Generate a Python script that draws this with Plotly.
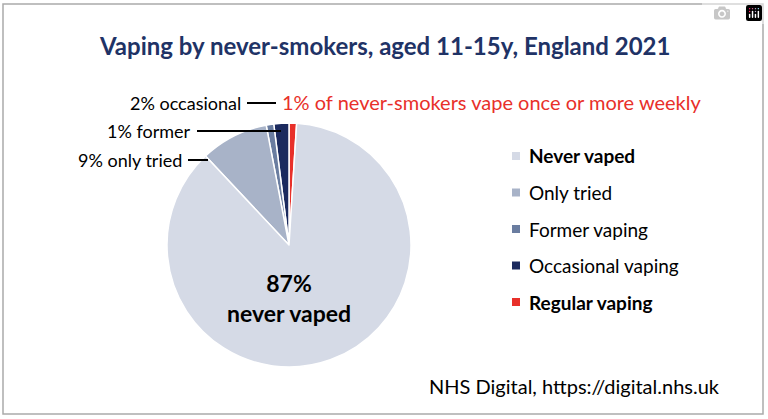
import plotly.graph_objects as go

W, H = 768, 419
labels = ["Regular vaping", "Occasional vaping", "Former vaping", "Only tried", "Never vaped"]
values = [1, 2, 1, 9, 87]
colors = ["#e8302a", "#1b2a5e", "#6a7da0", "#a8b3c8", "#d5dae6"]
legend_bold = [True, False, False, False, True]
callouts = [("2% occasional", 103, 247, 276), ("1% former", 131, 197, 281), ("9% only tried", 160, 188, 208)]

def px(x): return x / W
def py(y): return 1 - y / H

fig = go.Figure(go.Pie(
    labels=labels, values=values, sort=False, direction="counterclockwise", rotation=0,
    marker=dict(colors=colors, line=dict(color="white", width=1.5)),
    textinfo="none", hoverinfo="label+percent", showlegend=False,
    domain=dict(x=[px(167), px(411)], y=[py(367), py(123)])))

ann = []
shapes = [dict(type="rect", xref="paper", yref="paper", x0=px(3), y0=py(414), x1=px(763), y1=py(4),
               line=dict(color="#aaaaaa", width=1.5))]
ann.append(dict(x=0.5, y=py(45), text="<b>Vaping by never-smokers, aged 11-15y, England 2021</b>",
                font=dict(size=24, color="#1f3366"), showarrow=False, xanchor="center", yanchor="middle"))
ann.append(dict(x=px(289), y=py(298), text="<b>87%<br>never vaped</b>", font=dict(size=23, color="black"),
                showarrow=False, xanchor="center", yanchor="middle"))
ann.append(dict(x=px(280), y=py(102), text="1% of never-smokers vape once or more weekly",
                font=dict(size=20, color="#e8302a"), showarrow=False, xanchor="left", yanchor="middle"))
ann.append(dict(x=px(722), y=py(386), text="NHS Digital, https://digital.nhs.uk",
                font=dict(size=20, color="black"), showarrow=False, xanchor="right", yanchor="middle"))
for t, y, xe, xl in callouts:
    ann.append(dict(x=px(xe - 4), y=py(y), text=t, font=dict(size=18, color="black"),
                    showarrow=False, xanchor="right", yanchor="middle"))
    shapes.append(dict(type="line", xref="paper", yref="paper", x0=px(xe), y0=py(y), x1=px(xl), y1=py(y),
                       line=dict(color="black", width=2)))
leg_labels = labels[::-1]; leg_colors = colors[::-1]; leg_b = legend_bold[::-1]
for i, (l, c, b) in enumerate(zip(leg_labels, leg_colors, leg_b)):
    y = 156 + i * 36.5
    shapes.append(dict(type="rect", xref="paper", yref="paper", x0=px(512), x1=px(520), y0=py(y + 4), y1=py(y - 4),
                       fillcolor=c, line=dict(width=0)))
    ann.append(dict(x=px(527), y=py(y), text=f"<b>{l}</b>" if b else l, font=dict(size=19, color="black"),
                    showarrow=False, xanchor="left", yanchor="middle"))

fig.update_layout(width=W, height=H, margin=dict(l=0, r=0, t=0, b=0), paper_bgcolor="white",
                  font=dict(family="Lato, Open Sans, sans-serif"), annotations=ann, shapes=shapes)
fig.write_html("out.html", post_script="document.body.style.margin='0';document.body.style.overflow='hidden';")
